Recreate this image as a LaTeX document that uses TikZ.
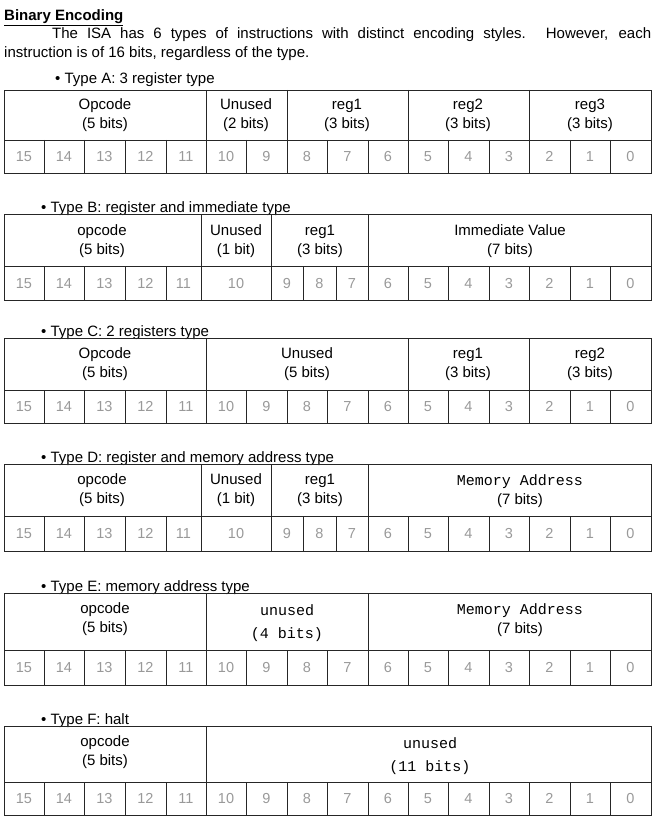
\documentclass[tikz,border=0pt]{standalone}
\usepackage{fontspec}
\setmainfont{Liberation Sans}
\newfontfamily\monof{Liberation Mono}
\begin{document}
\begin{tikzpicture}[x=1pt,y=1pt,
  num/.style={text=gray!80,font=\fontsize{14.5}{14.5}\selectfont,inner sep=0,anchor=base},
  hd/.style={align=center,font=\fontsize{15}{19}\selectfont,inner sep=0},
  ttl/.style={anchor=base west,font=\fontsize{15}{16}\selectfont,inner sep=0},
  tb/.style={line width=0.9pt,black!85}]
\useasboundingbox (0,0) rectangle (655,-829);
\def\LU{4/44,44/84,84/125,125/166,166/206,206/246,246/287,287/327,327/368,368/408,408/448,448/489,489/529,529/570,570/610,610/651}
\def\LB{4/44,44/84,84/125,125/166,166/201,201/271,271/303,303/336,336/368,368/408,408/448,448/489,489/529,529/570,570/610,610/651}
\newcommand\bitrow[4]{%
  \draw[tb] (4,-#1) rectangle (651,-#3);
  \draw[tb] (4,-#2) -- (651,-#2);
  \foreach \a/\b [count=\i] in #4 {\draw[tb] (\a,-#2) -- (\a,-#3);
    \node[num] at ({(\a+\b)/2},{-(#2+#3)/2-5.2}) {\the\numexpr16-\i\relax};}}
\newcommand\hdr[3]{\foreach \a in {#3} {\draw[tb] (\a,-#1) -- (\a,-#2);}}
% header text
\node[ttl] (t0) at (4,-21) {\textbf{\underline{Binary Encoding}}};
\node[anchor=north west,inner sep=0,text width=647pt,align=justify,font=\fontsize{15}{19.5}\selectfont] (p) at (4,-27)
 {\hspace*{48pt}The ISA has 6 types of instructions with distinct encoding styles. However, each\linebreak instruction is of 16 bits, regardless of the type.};
% Type A
\node[ttl] (ta) at (55,-84) {\textbullet\ Type A: 3 register type};
\bitrow{90}{140}{173}{\LU}
\hdr{90}{140}{206,287,408,529}
\node[hd] (a1) at (105,-115) {Opcode\\(5 bits)};
\node[hd] (a2) at (246,-115) {Unused\\(2 bits)};
\node[hd] (a3) at (347,-115) {reg1\\(3 bits)};
\node[hd] (a4) at (468,-115) {reg2\\(3 bits)};
\node[hd] (a5) at (590,-115) {reg3\\(3 bits)};
% Type B
\node[ttl] (tbt) at (41,-212) {\textbullet\ Type B: register and immediate type};
\bitrow{214}{266}{300}{\LB}
\hdr{214}{266}{201,271,368}
\node[hd] (b1) at (102,-241) {opcode\\(5 bits)};
\node[hd] (b2) at (236,-241) {Unused\\(1 bit)};
\node[hd] (b3) at (320,-241) {reg1\\(3 bits)};
\node[hd] (b4) at (510,-241) {Immediate Value\\(7 bits)};
% Type C
\node[ttl] (tc) at (41,-336) {\textbullet\ Type C: 2 registers type};
\bitrow{338}{390}{423}{\LU}
\hdr{338}{390}{206,408,529}
\node[hd] (c1) at (105,-364) {Opcode\\(5 bits)};
\node[hd] (c2) at (307,-364) {Unused\\(5 bits)};
\node[hd] (c3) at (468,-364) {reg1\\(3 bits)};
\node[hd] (c4) at (590,-364) {reg2\\(3 bits)};
% Type D
\node[ttl] (td) at (41,-462) {\textbullet\ Type D: register and memory address type};
\bitrow{464}{516}{551}{\LB}
\hdr{464}{516}{201,271,368}
\node[hd] (d1) at (102,-490) {opcode\\(5 bits)};
\node[hd] (d2) at (236,-490) {Unused\\(1 bit)};
\node[hd] (d3) at (320,-490) {reg1\\(3 bits)};
\node[hd] (d4) at (520,-491) {{\monof Memory Address}\\(7 bits)};
% Type E
\node[ttl] (te) at (41,-591) {\textbullet\ Type E: memory address type};
\bitrow{593}{650}{685}{\LU}
\hdr{593}{650}{206,368}
\node[hd] (e1) at (105,-619) {opcode\\(5 bits)};
\node[hd,font=\monof\fontsize{15}{23}\selectfont] (e2) at (287,-623) {unused\\(4 bits)};
\node[hd] (e4) at (520,-620) {{\monof Memory Address}\\(7 bits)};
% Type F
\node[ttl] (tf) at (41,-724) {\textbullet\ Type F: halt};
\bitrow{726}{782}{815}{\LU}
\hdr{726}{782}{206}
\node[hd] (f1) at (105,-752) {opcode\\(5 bits)};
\node[hd,font=\monof\fontsize{15}{23}\selectfont] (f2) at (430,-756) {unused\\(11 bits)};
\end{tikzpicture}
\end{document}
